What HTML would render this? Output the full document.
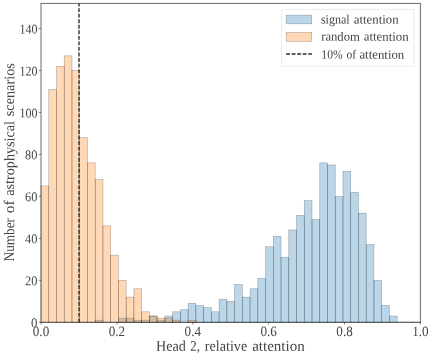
<!DOCTYPE html>
<html><head><meta charset="utf-8"><title>Head 2, relative attention</title>
<style>
html,body{margin:0;padding:0;background:#fff;}
body{width:432px;height:357px;overflow:hidden;}
svg{display:block;font-family:"Liberation Serif",serif;text-rendering:geometricPrecision;}
.b{fill:rgba(31,119,180,0.3);stroke:rgba(0,0,0,0.3);stroke-width:0.6;}
.o{fill:rgba(255,127,14,0.3);stroke:rgba(0,0,0,0.3);stroke-width:0.6;}
.ty{font-size:13.4px;fill:#444;}
.tx{font-size:14.2px;fill:#444;}
.lb{font-size:14.7px;fill:#444;}
.lg{font-size:12.6px;fill:#444;}
.tk{stroke:rgba(0,0,0,0.6);stroke-width:0.8;}
</style></head><body>
<svg width="432" height="357" viewBox="0 0 432 357">
<rect x="0" y="0" width="432" height="357" fill="#fff"/>
<g>
<path class="b" d="M41.00 322.3h7.743"/>
<path class="b" d="M48.74 322.3h7.743"/>
<path class="b" d="M56.49 322.3h7.743"/>
<path class="b" d="M64.23 322.3h7.743"/>
<path class="b" d="M71.97 322.3h7.743"/>
<path class="b" d="M79.71 322.3h7.743"/>
<path class="b" d="M87.46 322.3h7.743"/>
<rect class="b" x="95.20" y="320.20" width="7.743" height="2.10"/>
<path class="b" d="M102.94 322.3h7.743"/>
<path class="b" d="M110.69 322.3h7.743"/>
<rect class="b" x="118.43" y="318.10" width="7.743" height="4.20"/>
<rect class="b" x="126.17" y="318.10" width="7.743" height="4.20"/>
<rect class="b" x="133.91" y="320.20" width="7.743" height="2.10"/>
<rect class="b" x="141.66" y="320.20" width="7.743" height="2.10"/>
<rect class="b" x="149.40" y="316.01" width="7.743" height="6.29"/>
<rect class="b" x="157.14" y="320.20" width="7.743" height="2.10"/>
<rect class="b" x="164.89" y="316.01" width="7.743" height="6.29"/>
<rect class="b" x="172.63" y="311.81" width="7.743" height="10.49"/>
<rect class="b" x="180.37" y="309.71" width="7.743" height="12.59"/>
<rect class="b" x="188.11" y="303.42" width="7.743" height="18.88"/>
<rect class="b" x="195.86" y="305.52" width="7.743" height="16.78"/>
<rect class="b" x="203.60" y="307.61" width="7.743" height="14.69"/>
<rect class="b" x="211.34" y="311.81" width="7.743" height="10.49"/>
<rect class="b" x="219.09" y="299.22" width="7.743" height="23.08"/>
<rect class="b" x="226.83" y="301.32" width="7.743" height="20.98"/>
<rect class="b" x="234.57" y="284.54" width="7.743" height="37.76"/>
<rect class="b" x="242.31" y="297.12" width="7.743" height="25.18"/>
<rect class="b" x="250.06" y="288.73" width="7.743" height="33.57"/>
<rect class="b" x="257.80" y="278.24" width="7.743" height="44.06"/>
<rect class="b" x="265.54" y="246.77" width="7.743" height="75.53"/>
<rect class="b" x="273.29" y="236.28" width="7.743" height="86.02"/>
<rect class="b" x="281.03" y="257.26" width="7.743" height="65.04"/>
<rect class="b" x="288.77" y="229.99" width="7.743" height="92.31"/>
<rect class="b" x="296.51" y="215.30" width="7.743" height="107.00"/>
<rect class="b" x="304.26" y="200.62" width="7.743" height="121.68"/>
<rect class="b" x="312.00" y="219.50" width="7.743" height="102.80"/>
<rect class="b" x="319.74" y="162.85" width="7.743" height="159.45"/>
<rect class="b" x="327.49" y="164.95" width="7.743" height="157.35"/>
<rect class="b" x="335.23" y="196.42" width="7.743" height="125.88"/>
<rect class="b" x="342.97" y="171.24" width="7.743" height="151.06"/>
<rect class="b" x="350.71" y="192.22" width="7.743" height="130.08"/>
<rect class="b" x="358.46" y="213.20" width="7.743" height="109.10"/>
<rect class="b" x="366.20" y="244.67" width="7.743" height="77.63"/>
<rect class="b" x="373.94" y="280.34" width="7.743" height="41.96"/>
<rect class="b" x="381.69" y="305.52" width="7.743" height="16.78"/>
<rect class="b" x="389.43" y="316.01" width="7.743" height="6.29"/>
<path class="b" d="M397.17 322.3h7.743"/>
<path class="b" d="M404.91 322.3h7.743"/>
<path class="b" d="M412.66 322.3h7.743"/>
</g>
<g>
<rect class="o" x="41.00" y="185.93" width="7.743" height="136.37"/>
<rect class="o" x="48.74" y="89.42" width="7.743" height="232.88"/>
<rect class="o" x="56.49" y="66.34" width="7.743" height="255.96"/>
<rect class="o" x="64.23" y="55.85" width="7.743" height="266.45"/>
<rect class="o" x="71.97" y="70.54" width="7.743" height="251.76"/>
<rect class="o" x="79.71" y="137.68" width="7.743" height="184.62"/>
<rect class="o" x="87.46" y="162.85" width="7.743" height="159.45"/>
<rect class="o" x="95.20" y="179.64" width="7.743" height="142.66"/>
<rect class="o" x="102.94" y="225.79" width="7.743" height="96.51"/>
<rect class="o" x="110.69" y="255.16" width="7.743" height="67.14"/>
<rect class="o" x="118.43" y="280.34" width="7.743" height="41.96"/>
<rect class="o" x="126.17" y="297.12" width="7.743" height="25.18"/>
<rect class="o" x="133.91" y="288.73" width="7.743" height="33.57"/>
<rect class="o" x="141.66" y="311.81" width="7.743" height="10.49"/>
<rect class="o" x="149.40" y="316.01" width="7.743" height="6.29"/>
<rect class="o" x="157.14" y="318.10" width="7.743" height="4.20"/>
<rect class="o" x="164.89" y="318.10" width="7.743" height="4.20"/>
<rect class="o" x="172.63" y="320.20" width="7.743" height="2.10"/>
<path class="o" d="M180.37 322.3h7.743"/>
<rect class="o" x="188.11" y="320.20" width="7.743" height="2.10"/>
<path class="o" d="M195.86 322.3h7.743"/>
<path class="o" d="M203.60 322.3h7.743"/>
<path class="o" d="M211.34 322.3h7.743"/>
<path class="o" d="M219.09 322.3h7.743"/>
<path class="o" d="M226.83 322.3h7.743"/>
<path class="o" d="M234.57 322.3h7.743"/>
<path class="o" d="M242.31 322.3h7.743"/>
<path class="o" d="M250.06 322.3h7.743"/>
<path class="o" d="M257.80 322.3h7.743"/>
<path class="o" d="M265.54 322.3h7.743"/>
<path class="o" d="M273.29 322.3h7.743"/>
<path class="o" d="M281.03 322.3h7.743"/>
<path class="o" d="M288.77 322.3h7.743"/>
<path class="o" d="M296.51 322.3h7.743"/>
<path class="o" d="M304.26 322.3h7.743"/>
<path class="o" d="M312.00 322.3h7.743"/>
<path class="o" d="M319.74 322.3h7.743"/>
<path class="o" d="M327.49 322.3h7.743"/>
<path class="o" d="M335.23 322.3h7.743"/>
<path class="o" d="M342.97 322.3h7.743"/>
<path class="o" d="M350.71 322.3h7.743"/>
<path class="o" d="M358.46 322.3h7.743"/>
<path class="o" d="M366.20 322.3h7.743"/>
<path class="o" d="M373.94 322.3h7.743"/>
<path class="o" d="M381.69 322.3h7.743"/>
<path class="o" d="M389.43 322.3h7.743"/>
<path class="o" d="M397.17 322.3h7.743"/>
<path class="o" d="M404.91 322.3h7.743"/>
<path class="o" d="M412.66 322.3h7.743"/>
</g>
<path d="M79.0 322.3 L79.0 3.45" stroke="#2e2e2e" stroke-width="1.4" stroke-dasharray="3.87 1.67" fill="none"/>
<rect x="41.0" y="3.45" width="379.40" height="318.85" fill="none" stroke="rgba(0,0,0,0.53)" stroke-width="1.1"/>
<g class="ty">
<line class="tk" x1="38.80" x2="41.00" y1="322.30" y2="322.30"/>
<text transform="translate(37.40 327.20) rotate(0.1)" text-anchor="end" textLength="6.4" lengthAdjust="spacingAndGlyphs">0</text>
<line class="tk" x1="38.80" x2="41.00" y1="280.34" y2="280.34"/>
<text transform="translate(37.40 285.24) rotate(0.1)" text-anchor="end" textLength="12.3" lengthAdjust="spacingAndGlyphs">20</text>
<line class="tk" x1="38.80" x2="41.00" y1="238.38" y2="238.38"/>
<text transform="translate(37.40 243.28) rotate(0.1)" text-anchor="end" textLength="12.3" lengthAdjust="spacingAndGlyphs">40</text>
<line class="tk" x1="38.80" x2="41.00" y1="196.42" y2="196.42"/>
<text transform="translate(37.40 201.32) rotate(0.1)" text-anchor="end" textLength="12.3" lengthAdjust="spacingAndGlyphs">60</text>
<line class="tk" x1="38.80" x2="41.00" y1="154.46" y2="154.46"/>
<text transform="translate(37.40 159.36) rotate(0.1)" text-anchor="end" textLength="12.3" lengthAdjust="spacingAndGlyphs">80</text>
<line class="tk" x1="38.80" x2="41.00" y1="112.50" y2="112.50"/>
<text transform="translate(37.40 117.40) rotate(0.1)" text-anchor="end" textLength="18.0" lengthAdjust="spacingAndGlyphs">100</text>
<line class="tk" x1="38.80" x2="41.00" y1="70.54" y2="70.54"/>
<text transform="translate(37.40 75.44) rotate(0.1)" text-anchor="end" textLength="18.0" lengthAdjust="spacingAndGlyphs">120</text>
<line class="tk" x1="38.80" x2="41.00" y1="28.58" y2="28.58"/>
<text transform="translate(37.40 33.48) rotate(0.1)" text-anchor="end" textLength="18.0" lengthAdjust="spacingAndGlyphs">140</text>
</g>
<g class="tx">
<line class="tk" x1="41.00" x2="41.00" y1="322.30" y2="324.50"/>
<text transform="translate(41.00 335.90) rotate(0.1)" text-anchor="middle" textLength="16.4" lengthAdjust="spacingAndGlyphs">0.0</text>
<line class="tk" x1="116.88" x2="116.88" y1="322.30" y2="324.50"/>
<text transform="translate(116.88 335.90) rotate(0.1)" text-anchor="middle" textLength="16.4" lengthAdjust="spacingAndGlyphs">0.2</text>
<line class="tk" x1="192.76" x2="192.76" y1="322.30" y2="324.50"/>
<text transform="translate(192.76 335.90) rotate(0.1)" text-anchor="middle" textLength="16.4" lengthAdjust="spacingAndGlyphs">0.4</text>
<line class="tk" x1="268.64" x2="268.64" y1="322.30" y2="324.50"/>
<text transform="translate(268.64 335.90) rotate(0.1)" text-anchor="middle" textLength="16.4" lengthAdjust="spacingAndGlyphs">0.6</text>
<line class="tk" x1="344.52" x2="344.52" y1="322.30" y2="324.50"/>
<text transform="translate(344.52 335.90) rotate(0.1)" text-anchor="middle" textLength="16.4" lengthAdjust="spacingAndGlyphs">0.8</text>
<line class="tk" x1="420.40" x2="420.40" y1="322.30" y2="324.50"/>
<text transform="translate(420.40 335.90) rotate(0.1)" text-anchor="middle" textLength="16.4" lengthAdjust="spacingAndGlyphs">1.0</text>
</g>
<g class="lb">
<text transform="translate(155.90 350.80) rotate(0.1)" textLength="29.9" lengthAdjust="spacingAndGlyphs">Head</text>
<text transform="translate(190.30 350.80) rotate(0.1)" textLength="9.6" lengthAdjust="spacingAndGlyphs">2,</text>
<text transform="translate(204.80 350.80) rotate(0.1)" textLength="42.4" lengthAdjust="spacingAndGlyphs">relative</text>
<text transform="translate(252.20 350.80) rotate(0.1)" textLength="52.5" lengthAdjust="spacingAndGlyphs">attention</text>
</g>
<g class="lb">
<text transform="translate(14.10 261.40) rotate(-89.9)" textLength="43.4" lengthAdjust="spacingAndGlyphs">Number</text>
<text transform="translate(14.10 213.20) rotate(-89.9)" textLength="12.8" lengthAdjust="spacingAndGlyphs">of</text>
<text transform="translate(14.10 195.70) rotate(-89.9)" textLength="74.7" lengthAdjust="spacingAndGlyphs">astrophysical</text>
<text transform="translate(14.10 116.20) rotate(-89.9)" textLength="53.0" lengthAdjust="spacingAndGlyphs">scenarios</text>
</g>
<g>
<rect x="281.5" y="9.6" width="132.4" height="56.4" rx="1" ry="1" fill="rgba(255,255,255,0.8)" stroke="#e9e9e9" stroke-width="0.9"/>
<rect class="b" x="286.2" y="15.1" width="25.5" height="8.7"/>
<rect class="o" x="286.2" y="32.4" width="25.5" height="9.1"/>
<path d="M286.1 54 L311.9 54" stroke="#2e2e2e" stroke-width="1.4" stroke-dasharray="3.87 1.67" fill="none"/>
<g class="lg">
<text transform="translate(320.90 23.40) rotate(0.1)" textLength="28.8" lengthAdjust="spacingAndGlyphs">signal</text>
<text transform="translate(353.70 23.40) rotate(0.1)" textLength="44.9" lengthAdjust="spacingAndGlyphs">attention</text>
<text transform="translate(321.20 40.60) rotate(0.1)" textLength="38.7" lengthAdjust="spacingAndGlyphs">random</text>
<text transform="translate(363.70 40.60) rotate(0.1)" textLength="44.9" lengthAdjust="spacingAndGlyphs">attention</text>
<text transform="translate(321.30 58.60) rotate(0.1)" textLength="21.4" lengthAdjust="spacingAndGlyphs">10%</text>
<text transform="translate(346.40 58.60) rotate(0.1)" textLength="9.6" lengthAdjust="spacingAndGlyphs">of</text>
<text transform="translate(359.40 58.60) rotate(0.1)" textLength="44.9" lengthAdjust="spacingAndGlyphs">attention</text>
</g>
</g>
</svg>
</body></html>
